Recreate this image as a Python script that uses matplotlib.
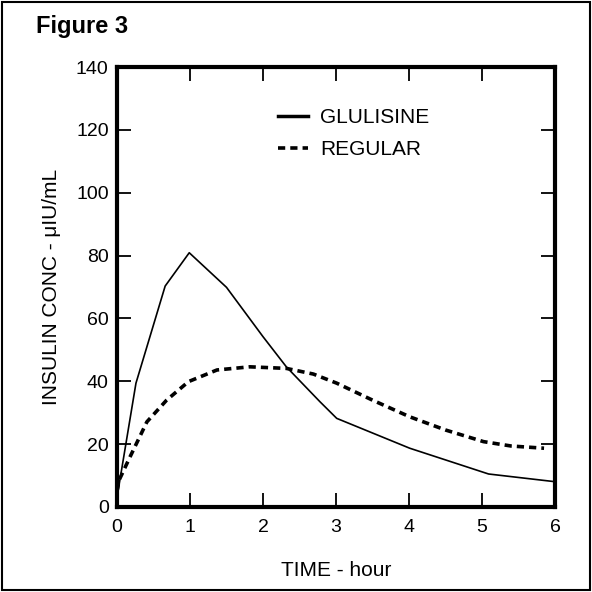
import matplotlib.pyplot as plt
from matplotlib.patches import Rectangle

plt.rcParams['font.family'] = ['Liberation Sans', 'DejaVu Sans']

# Insulin concentration (microIU/mL)
glulisine_time = [0, 0.26, 0.66, 0.99, 1.5, 2.0, 2.32, 2.78, 3.01, 4.01, 5.09, 5.98]
glulisine_conc = [3, 39.4, 70.3, 80.9, 69.9, 54.2, 44.6, 33.5, 28.2, 18.7, 10.5, 8.1]

regular_time = [0, 0.03, 0.18, 0.41, 0.68, 0.98, 1.37, 1.82, 2.32, 2.69, 3.01, 3.5, 4.01, 4.5, 5.02, 5.4, 5.85]
regular_conc = [5, 8.6, 16, 27.1, 34, 39.9, 43.6, 44.6, 44.1, 42.3, 39.4, 34, 28.7, 24.5, 20.8, 19.4, 18.7]

x_ticks = [0, 1, 2, 3, 4, 5, 6]
y_ticks = [0, 20, 40, 60, 80, 100, 120, 140]

fig = plt.figure(figsize=(5.92, 5.92), dpi=100)
ax = fig.add_axes([0.1976, 0.1436, 0.7399, 0.7432])

# Plot both insulins
ax.plot(glulisine_time, glulisine_conc, color='black', linewidth=1.2, label='GLULISINE')
ax.plot(regular_time, regular_conc, color='black', linewidth=2.6, linestyle=(0, (2, 1.4)), label='REGULAR')

ax.set_xlim(0, 6)
ax.set_ylim(0, 140)
ax.set_xticks(x_ticks)
ax.set_yticks(y_ticks)

# Inward ticks on every side, thick frame
ax.tick_params(direction='in', length=10, width=1.3, top=True, right=True, labelsize=14)
ax.tick_params(axis='x', pad=9)
ax.tick_params(axis='y', pad=6)
for side in ax.spines.values():
    side.set_linewidth(3)

ax.set_xlabel('TIME - hour', fontsize=15, labelpad=18)
ax.set_ylabel('INSULIN CONC - \u03bcIU/mL', fontsize=15, labelpad=11)

# Legend without frame
leg = ax.legend(loc='upper left', bbox_to_anchor=(0.368, 0.906), frameon=False, fontsize=15,
                handlelength=1.44, handletextpad=0.58, labelspacing=0.62, borderpad=0, borderaxespad=0)
leg.get_lines()[0].set_linewidth(2.5)

fig.text(0.061, 0.945, 'Figure 3', fontsize=17, fontweight='bold', va='baseline')

# Border round the whole figure
fig.patches.append(Rectangle((0.003, 0.003), 0.994, 0.994, transform=fig.transFigure,
                             fill=False, edgecolor='black', linewidth=1.5))

plt.savefig('out.png', dpi=100)
